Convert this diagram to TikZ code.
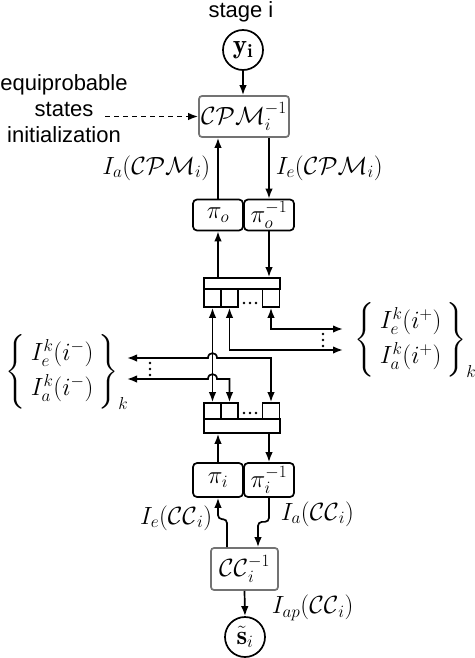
\documentclass[tikz,border=0pt]{standalone}
\usepackage{amsmath}
\usepackage{fontspec}
\setsansfont{Liberation Sans}
\usetikzlibrary{arrows.meta,calc}
\begin{document}
\begin{tikzpicture}[x=1pt,y=-1pt,
  >={Latex[length=10pt,width=7.5pt]},
  line width=1.7pt,
  font=\fontsize{24}{29}\selectfont,
  big/.style={font=\fontsize{27}{31}\selectfont},
  txt/.style={font=\sffamily\fontsize{22}{26}\selectfont},
  graybox/.style={draw=black!55, rounded corners=3pt, inner sep=0pt},
  pibox/.style={draw, rounded corners=4pt, minimum width=50pt, inner sep=0pt, big},
  circ/.style={circle, draw, minimum size=40pt, inner sep=0pt, big},
  cell/.style={draw, minimum width=17pt, minimum height=18pt, inner sep=0pt},
  bar/.style={draw, minimum width=76pt, inner sep=0pt},
  lab/.style={inner sep=0pt},
  dot/.style={circle, fill, inner sep=0pt, minimum size=2.6pt}
]
\useasboundingbox (0,0) rectangle (474,658);

% top
\node[txt] (stage) at (241,12) {stage i};
\node[circ] (y) at (243,50) {$\mathbf{y}_{\mathbf{i}}$};
\node[graybox, minimum width=90pt, minimum height=41pt, font=\fontsize{25}{30}\selectfont] (cpm) at (244,116.5) {$\mathcal{CPM}_i^{-1}$};
\node[txt, align=center] (eq) at (64,109) {equiprobable\\states\\initialization};
\coordinate (dstart) at (105,116.5);
\draw[->, dash pattern=on 5pt off 4pt] (dstart) -- (cpm.west);
\draw[->] (y.south) -- (y.south |- cpm.north);

% pi_o
\node[pibox, minimum height=31pt] (po) at (218,215) {$\pi_o$};
\node[pibox, minimum height=31pt] (poi) at (269,215) {$\pi_o^{-1}$};
\draw[->] (po.north) -- (po.north |- cpm.south);
\draw[->] (poi.north |- cpm.south) -- (poi.north);
\node[lab, anchor=east] (la1) at (211,168) {$I_a(\mathcal{CPM}_i)$};
\node[lab, anchor=west] (le1) at (275,168) {$I_e(\mathcal{CPM}_i)$};

% upper mux
\node[bar, minimum height=11pt] (umt) at (242,283.5) {};
\node[cell] (uc1) at (212.5,298) {};
\node[cell] (uc2) at (229.5,298) {};
\node[cell] (uc3) at (271,298) {};
\foreach \i in {0,1,2} \node[dot] (ud\i) at (244+6*\i,303) {};
\draw[->] (po.south |- umt.north) -- (po.south);
\draw[->] (poi.south) -- (poi.south |- umt.north);

% lower mux
\node[cell, minimum height=16pt] (lc1) at (212.5,411) {};
\node[cell, minimum height=16pt] (lc2) at (229.5,411) {};
\node[cell, minimum height=16pt] (lc3) at (271,411) {};
\node[bar, minimum height=14pt] (lmb) at (242,426) {};
\foreach \i in {0,1,2} \node[dot] (ld\i) at (244+6*\i,413) {};

% pi_i
\node[pibox, minimum height=34pt] (pi) at (218,480) {$\pi_i$};
\node[pibox, minimum height=34pt] (pii) at (269,480) {$\pi_i^{-1}$};
\draw[->] (pi.north) -- (pi.north |- lmb.south);
\draw[->] (pii.north |- lmb.south) -- (pii.north);

% CC
\node[graybox, minimum width=67pt, minimum height=42pt, big] (cc) at (244.5,569) {$\mathcal{CC}_i^{-1}$};
\draw[->, rounded corners=4pt] ([xshift=-17.5pt]cc.north) -- ++(0,-28) -| (pi.south);
\draw[->, rounded corners=4pt] (pii.south) -- ++(0,24) -| ([xshift=13.5pt]cc.north);
\node[lab, anchor=east] (le2) at (213,518) {$I_e(\mathcal{CC}_i)$};
\node[lab, anchor=west] (la2) at (280,514) {$I_a(\mathcal{CC}_i)$};
\node[circ] (s) at (245,637) {$\tilde{\mathbf{s}}_i$};
\draw[->] (cc.south) -- (s.north);
\node[lab, anchor=west] (lap) at (271,608) {$I_{ap}(\mathcal{CC}_i)$};

% middle connectors
\draw[<->] (uc1.south) -- (lc1.north);
\coordinate (rA) at (343,329);
\coordinate (rB) at (343,350);
\draw[<->] (uc3.south) |- (rA);
\draw[<->] (uc2.south) |- (rB);
\coordinate (lA) at (127,358);
\coordinate (lB) at (127,379);
\draw[<->] (lA) -- (208,358) .. controls (208,351.5) and (217,351.5) .. (217,358) -| (lc3.north);
\draw[<->] (lB) -- (208,379) .. controls (208,372.5) and (217,372.5) .. (217,379) -| (lc2.north);
\foreach \i in {0,1,2} \node[dot] (rd\i) at (323,334+6*\i) {};
\foreach \i in {0,1,2} \node[dot] (lv\i) at (150,363+6*\i) {};

% brace groups
\node[lab, anchor=west] (rgrp) at (354,340) {$\renewcommand{\arraystretch}{1.1}\left\{\begin{array}{c}I_e^k(i^+)\\[3pt] I_a^k(i^+)\end{array}\right\}_k$};
\node[lab, anchor=west] (lgrp) at (5,372) {$\renewcommand{\arraystretch}{1.1}\left\{\begin{array}{c}I_e^k(i^-)\\[3pt] I_a^k(i^-)\end{array}\right\}_k$};
\end{tikzpicture}
\end{document}
